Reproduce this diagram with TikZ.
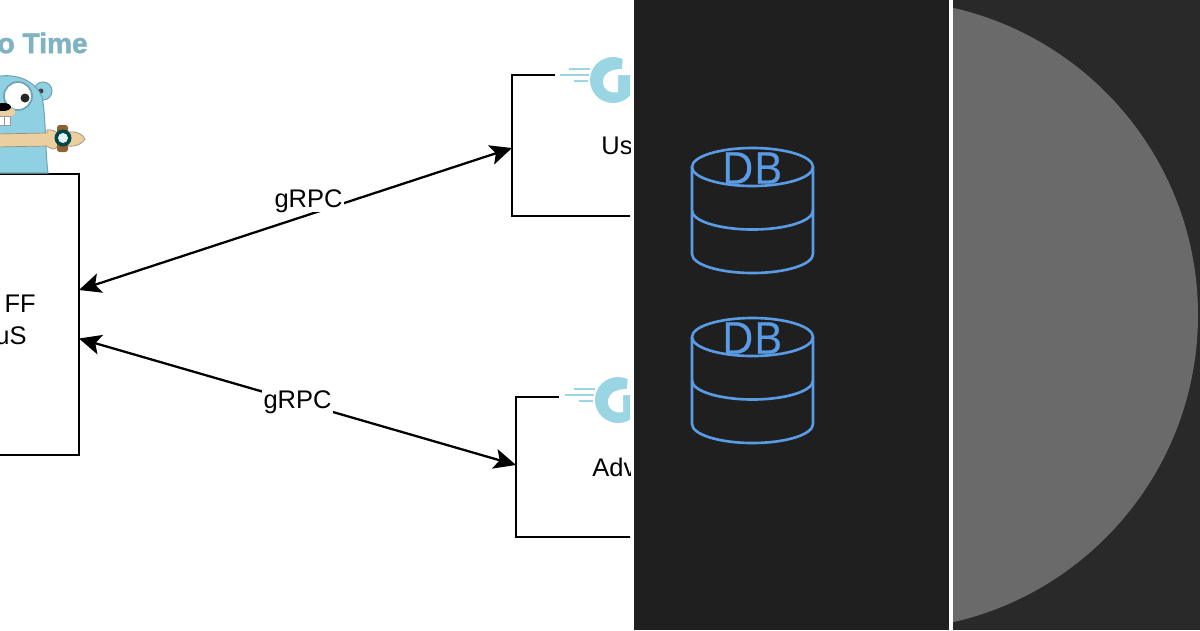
\documentclass[tikz,border=0pt]{standalone}
\usepackage{fontspec}
\setmainfont{Liberation Sans}
\newfontfamily\dbfont[FakeBold=0.5]{Open Sans}
\newfontfamily\titlefont[FakeBold=1.6]{Liberation Sans Bold}
\usepackage{tikz}
\usetikzlibrary{arrows.meta}
\usetikzlibrary{shapes, positioning, calc}
\definecolor{gopherblue}{HTML}{8FD0E2}
\definecolor{gopheredge}{HTML}{6FA5B3}
\definecolor{gopherskin}{HTML}{EBCFA0}
\definecolor{titleteal}{HTML}{7FB3C0}
\definecolor{logoblue}{HTML}{9AD5E4}
\definecolor{dbblue}{HTML}{5A9BE6}
\definecolor{panelleft}{HTML}{1F1F1F}
\definecolor{panelright}{HTML}{292929}
\definecolor{moon}{HTML}{6A6A6A}
\newcommand{\gologo}[2]{
  \begin{scope}[shift={(#1,#2)}]
    \fill[logoblue] (0,0) circle (23);
    \fill[white] (10,-26) -- (20,-26) -- (20,-5) -- (5,-5) -- (5,12) .. controls (-2,14) and (-10,10) .. (-10,2) .. controls (-10,-6) and (-3,-11) .. (9,-11) -- cycle;
    \draw[logoblue,line width=1.5pt] (-44,-11) -- (-23,-11);
    \draw[logoblue,line width=1.5pt] (-53,-5) -- (-24,-5);
    \draw[logoblue,line width=1.5pt] (-39,1) -- (-25,1);
  \end{scope}
}
\begin{document}
\begin{tikzpicture}[x=0.02cm,y=-0.02cm,>={Stealth[length=0.44cm,width=0.4cm,inset=0.1cm]},
  box line/.style={line width=1.3pt,black},
  box node/.style={rectangle,outer sep=0pt,inner sep=0pt},
  link/.style={<->,line width=1.3pt,black},
  link text/.style={fill=white,inner xsep=1pt,inner ysep=0pt,font=\fontsize{14.5}{17}\selectfont},
  box text/.style={inner sep=0pt,font=\fontsize{14.5}{17}\selectfont},
  db line/.style={dbblue,line width=1.5pt},
  db text/.style={dbblue,inner sep=0pt,font=\dbfont\fontsize{25}{27}\selectfont}]
  \useasboundingbox (0,0) rectangle (1200,630);
  \fill[white] (0,0) rectangle (1200,630);
  % dark panels
  \fill[panelleft] (634,0) rectangle (949,630);
  \fill[panelright] (953,0) rectangle (1200,630);
  \begin{scope}
    \clip (953,0) rectangle (1200,630);
    \fill[moon] (883,315) circle (315);
  \end{scope}
  \begin{scope}
    \clip (0,0) rectangle (630,630);
    \node[box node, draw, box line, minimum width=3.58cm, minimum height=5.62cm] (bff) at (-10.5,314.5) {};
    \node[box node, minimum width=4.8cm, minimum height=2.82cm] (user) at (632,145.5) {};
    \node[box node, minimum width=4.8cm, minimum height=2.8cm] (adv) at (636,467) {};
    \draw[box line] ($(user.north west)+(43,0)$) -- (user.north west) -- (user.south west) -- (user.south east);
    \draw[box line] ($(adv.north west)+(43,0)$) -- (adv.north west) -- (adv.south west) -- (adv.south east);
    \node[box text, anchor=east] (bffa) at (36,304) {FF};
    \node[box text, anchor=east] (bffb) at (27,336) {uS};
    \node[box text, anchor=west] (usertext) at (601,146) {Us};
    \node[box text, anchor=west] (advtext) at (592,467) {Adv};
    \gologo{613}{80}
    \gologo{618}{400}
    % gopher
    \node[anchor=east, inner sep=0pt, text=titleteal, font=\titlefont\fontsize{16}{18}\selectfont] (title) at (88,43) {o Time};
    \fill[gopherblue, draw=gopheredge, line width=0.6pt] (43,91) circle (9);
    \fill[black!75] (41,91) circle (2.5);
    \fill[gopherblue, draw=gopheredge, line width=0.6pt] (-5,173) -- (-5,77) .. controls (12,73) and (34,78) .. (42,97) .. controls (46,115) and (45,150) .. (48,173) -- cycle;
    \fill[white, draw=gopheredge, line width=1pt] (18,96) circle (14);
    \fill[black!85] (25,98) circle (4.5);
    \fill[gopherskin, draw=gopheredge!70, line width=0.3pt] (-5,108) .. controls (5,106) and (15,107) .. (16,112) .. controls (15,118) and (4,120) .. (-5,119) -- cycle;
    \fill[black] (3,107) ellipse (8 and 4);
    \fill[white, draw=black!40, line width=0.3pt] (-1,116) rectangle (4.5,125);
    \fill[white, draw=black!40, line width=0.3pt] (4.5,116) rectangle (10,125);
    \fill[gopherskin, draw=gopheredge!50!brown, line width=0.4pt] (-5,134) -- (47,133) -- (47,130) .. controls (52,129) and (56,132) .. (58,133) -- (70,132) .. controls (78,131) and (83,135) .. (85,139) .. controls (82,144) and (76,147) .. (68,146) -- (58,145) .. controls (57,149) and (53,150) .. (50,148) -- (47,146) -- (-5,147) -- cycle;
    \fill[brown!75!black, rounded corners=1.5pt] (57,125) rectangle (68,152);
    \fill[teal!55!black] (63,138) circle (8.5);
    \fill[white!75!gopherblue] (63,138) circle (5);
  \end{scope}
  % links
  \draw[link] ([yshift=0.49cm]bff.east) -- node[link text, pos=.53, yshift=0.28cm] (grpca) {gRPC} ([yshift=-0.05cm]user.west);
  \draw[link] ([yshift=-0.48cm]bff.east) -- node[link text, pos=.5] (grpcb) {gRPC} ([yshift=0.04cm]adv.west);
  % databases
  \foreach \dby/\dbname in {0/dba,170/dbb}{
    \begin{scope}[yshift=-\dby*0.02cm]
      \draw[db line] (752.5,167) ellipse (60.5 and 19);
      \draw[db line] (692,167) -- (692,254) arc[start angle=180,end angle=360,x radius=60.5,y radius=-19] -- (813,167);
      \draw[db line] (692,210.5) arc[start angle=180,end angle=360,x radius=60.5,y radius=-19];
      \node[db text] (\dbname) at (752,168) {DB};
    \end{scope}
  }
 \end{tikzpicture}
\end{document}
